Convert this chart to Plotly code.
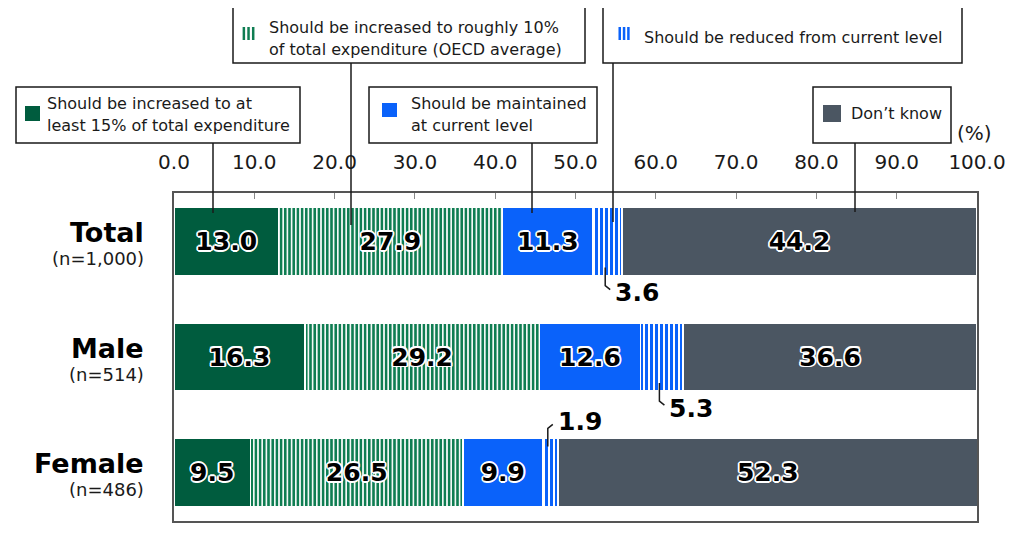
import plotly.graph_objects as go

categories = ["Total", "Male", "Female"]
n_labels = ["(n=1,000)", "(n=514)", "(n=486)"]
series_names = [
    "Should be increased to at least 15% of total expenditure",
    "Should be increased to roughly 10% of total expenditure (OECD average)",
    "Should be maintained at current level",
    "Should be reduced from current level",
    "Don't know",
]
s_15pct = [13.0, 16.3, 9.5]
s_10pct = [27.9, 29.2, 26.5]
s_maintain = [11.3, 12.6, 9.9]
s_reduce = [3.6, 5.3, 1.9]
s_dontknow = [44.2, 36.6, 52.3]
series_values = [s_15pct, s_10pct, s_maintain, s_reduce, s_dontknow]
x_ticks = [0, 10, 20, 30, 40, 50, 60, 70, 80, 90, 100]

DKGREEN = "#005C3E"
STRIPEGREEN = "#0F7D52"
BLUE = "#0A62FA"
GRAY = "#4B5662"
TXT = "#1a1a1a"
FONT = "DejaVu Sans"

# page body has an 8px margin; the figure is sized to fill the rest of the window
OFF = 8
W, H = 1024 - OFF, 543 - OFF
L, R, T, B = 174 - OFF, 47, 193 - OFF, 22
PW, PH = W - L - R, H - T - B


def pxx(x):
    return (x - OFF - L) / PW


def pxy(y):
    return (H - B - (y - OFF)) / PH


outline = ", ".join(
    f"{dx}px {dy}px 0 #fff" for dx, dy in
    [(1.8, 0), (-1.8, 0), (0, 1.8), (0, -1.8), (1.3, 1.3), (-1.3, -1.3), (1.3, -1.3), (-1.3, 1.3)]
)

styles = [
    dict(color=DKGREEN),
    dict(color="white", pattern=dict(shape="|", fgcolor=STRIPEGREEN, bgcolor="white", size=4.2,
                                     solidity=0.62, fgopacity=1)),
    dict(color=BLUE),
    dict(color="white", pattern=dict(shape="|", fgcolor=BLUE, bgcolor="white", size=5,
                                     solidity=0.6, fgopacity=1)),
    dict(color=GRAY),
]

INSIDE_MIN = 6.0

fig = go.Figure()
for name, vals, st in zip(series_names, series_values, styles):
    fig.add_trace(go.Bar(
        y=categories, x=vals, name=name, orientation="h",
        marker=dict(line=dict(color="white", width=1.5), **st),
        text=[f"{v:.1f}" if v >= INSIDE_MIN else "" for v in vals],
        textposition="inside", insidetextanchor="middle", textangle=0,
        constraintext="none",
        textfont=dict(family=FONT, size=25, color="black", weight="bold", shadow=outline),
        hoverinfo="skip",
    ))

shapes = []
annotations = []

# category labels
for i, (c, n) in enumerate(zip(categories, n_labels)):
    annotations.append(dict(xref="paper", yref="y", x=pxx(146), y=i, xanchor="right", yanchor="middle",
                            yshift=9, text=f"<b>{c}</b>", showarrow=False,
                            font=dict(family=FONT, size=27, color="black")))
    annotations.append(dict(xref="paper", yref="y", x=pxx(146), y=i, xanchor="right", yanchor="middle",
                            yshift=-17, text=n, showarrow=False,
                            font=dict(family=FONT, size=18, color=TXT)))

# outside labels for small segments
half = 0.5 * (1 - 0.41)
upp = 2.84 / PH  # data units per pixel (y)
xpp = 100 / PW
out_side = ["below", "below", "above"]
for i in range(len(categories)):
    start = 0.0
    for vals in series_values:
        v = vals[i]
        if v < INSIDE_MIN:
            cx = start + v / 2 - 0.3
            sgn = 1 if out_side[i] == "below" else -1
            edge = i + sgn * half
            y0 = edge - sgn * 8 * upp
            y1 = edge + sgn * 10 * upp
            y2 = edge + sgn * 14 * upp
            shapes.append(dict(type="path", xref="x", yref="y",
                               path=f"M {cx} {y0} L {cx} {y1} L {cx + 5 * xpp} {y2}",
                               line=dict(color=TXT, width=1.5)))
            annotations.append(dict(xref="x", yref="y", x=cx + 8 * xpp, y=edge + sgn * 17 * upp,
                                    xanchor="left", yanchor="middle", text=f"<b>{v:.1f}</b>",
                                    showarrow=False, font=dict(family=FONT, size=25, color="black")))
        start += v

# legend callout boxes (pixel geometry of the window)
boxes = [
    dict(b=(16, 300, 87, 143), sym=("sq", DKGREEN, 25, 106, 40, 121),
         lines=[(45, 103, "Should be increased to at"), (45, 126, "least 15% of total expenditure")],
         lead=(213, 213)),
    dict(b=(233, 585, 7, 63), sym=("st", STRIPEGREEN, 242, 27, 256, 40),
         lines=[(267, 27, "Should be increased to roughly 10%"), (267, 50, "of total expenditure (OECD average)")],
         lead=(351, 225)),
    dict(b=(369, 597, 87, 143), sym=("sq", BLUE, 382, 103, 397, 117),
         lines=[(409, 103, "Should be maintained"), (409, 126, "at current level")],
         lead=(532, 213)),
    dict(b=(603, 962, 7, 63), sym=("st", BLUE, 618, 27, 631, 40),
         lines=[(642, 38, "Should be reduced from current level")],
         lead=(613, 222)),
    dict(b=(813, 951, 87, 143), sym=("sq", GRAY, 823, 105, 841, 122),
         lines=[(849, 114, "Don\u2019t know")],
         lead=(855, 212)),
]
for bx in boxes:
    x0, x1, y0, y1 = bx["b"]
    shapes.append(dict(type="rect", xref="paper", yref="paper", x0=pxx(x0), x1=pxx(x1),
                       y0=pxy(y1), y1=pxy(y0), line=dict(color=TXT, width=1.5), fillcolor="white",
                       layer="above"))
    kind, col, sx0, sy0, sx1, sy1 = bx["sym"]
    if kind == "sq":
        shapes.append(dict(type="rect", xref="paper", yref="paper", x0=pxx(sx0), x1=pxx(sx1),
                           y0=pxy(sy1), y1=pxy(sy0), line=dict(width=0), fillcolor=col))
    else:
        step = (sx1 - sx0) / 3
        for k in range(3):
            xx = sx0 + step * (k + 0.4)
            shapes.append(dict(type="line", xref="paper", yref="paper", x0=pxx(xx), x1=pxx(xx),
                               y0=pxy(sy1), y1=pxy(sy0), line=dict(color=col, width=2.5)))
    for tx, ty, t in bx["lines"]:
        annotations.append(dict(xref="paper", yref="paper", x=pxx(tx), y=pxy(ty), xanchor="left",
                                yanchor="middle", text=t, showarrow=False,
                                font=dict(family=FONT, size=16, color=TXT)))
    lx, ly = bx["lead"]
    shapes.append(dict(type="line", xref="paper", yref="paper", x0=pxx(lx), x1=pxx(lx),
                       y0=pxy(y1), y1=pxy(ly), line=dict(color=TXT, width=1.5), layer="above"))

annotations.append(dict(xref="paper", yref="paper", x=pxx(974), y=pxy(133), xanchor="center",
                        yanchor="middle", text="(%)", showarrow=False,
                        font=dict(family=FONT, size=20, color=TXT)))

fig.update_layout(
    barmode="stack", bargap=0.41, width=W, height=H,
    margin=dict(l=L, r=R, t=T, b=B, autoexpand=False),
    paper_bgcolor="white", plot_bgcolor="white", showlegend=False,
    shapes=shapes, annotations=annotations,
    xaxis=dict(range=[0, 100], side="top", tickvals=x_ticks, ticktext=[f"{v:.1f}" for v in x_ticks],
               ticks="inside", ticklen=6, tickcolor="#888", tickwidth=1.2,
               showline=True, linecolor="#555", linewidth=1.5, mirror=True, showgrid=False,
               zeroline=False, tickfont=dict(family=FONT, size=20, color=TXT), ticklabelstandoff=14,
               fixedrange=True),
    yaxis=dict(categoryorder="array", categoryarray=categories, range=[2.42, -0.42],
               showticklabels=False, ticks="", showline=True, linecolor="#555", linewidth=1.5,
               mirror=True, showgrid=False, zeroline=False, fixedrange=True),
)

fig.write_html("out.html")
